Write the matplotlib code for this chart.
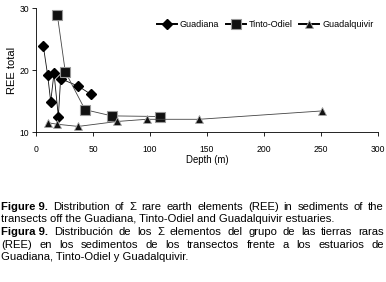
import matplotlib
matplotlib.use("Agg")
import matplotlib.pyplot as plt

plt.rcParams['font.family'] = ['Liberation Sans', 'DejaVu Sans']

# datos
guad_x = [6.4, 10.2, 12.9, 15.8, 19.6, 21.6, 37.0, 48.0]
guad_y = [23.9, 19.2, 14.9, 19.5, 12.5, 18.6, 17.4, 16.1]

tinto_x = [18.7, 25.7, 43.0, 66.4, 108.5]
tinto_y = [28.9, 19.7, 13.6, 12.6, 12.5]

gq_x = [10.2, 18.7, 37.0, 71.3, 97.0, 143.0, 251.0]
gq_y = [11.5, 11.25, 10.9, 11.7, 12.05, 12.05, 13.4]

xticks = [0, 50, 100, 150, 200, 250, 300]
yticks = [10, 20, 30]

fig = plt.figure(figsize=(3.86, 2.82), dpi=100)
fig.canvas.draw()
r = fig.canvas.get_renderer()


def width(txt, fs, bold=False):
    t = fig.text(0, 0, txt, fontsize=fs, fontweight="bold" if bold else "normal")
    w = t.get_window_extent(r).width
    t.remove()
    return w


def size_for(txt, px):
    return 10 * px / width(txt, 10)


fs_tick = size_for("300", 14.5)
fs_lab = size_for("Depth (m)", 43)
fs_ylab = size_for("REE total", 47)
fs_leg = size_for("Guadalquivir", 51)
fs_cap = size_for("transects off the Guadiana, Tinto-Odiel and Guadalquivir estuaries.", 334)

ax = fig.add_axes([36/386, 1 - 132/282, 342/386, 124/282])

ax.plot(guad_x, guad_y, color="#111111", lw=0.6, marker="D",
        ms=5, mfc="black", mec="black", label="Guadiana")
ax.plot(tinto_x, tinto_y, color="#444444", lw=0.6, marker="s",
        ms=7, mfc="#111111", mec="#999999", mew=0.8, label="Tinto-Odiel")
ax.plot(gq_x, gq_y, color="#444444", lw=0.6, marker="^",
        ms=5.5, mfc="#111111", mec="#aaaaaa", mew=0.6, label="Guadalquivir")

ax.set_xlim(0, 300)
ax.set_ylim(10, 30)
ax.set_xticks(xticks)
ax.set_yticks(yticks)
ax.tick_params(labelsize=fs_tick, length=3, width=0.6, direction="out", pad=6)
ax.tick_params(axis="y", pad=2)
for s in ["top", "right"]:
    ax.spines[s].set_visible(False)
for s in ["left", "bottom"]:
    ax.spines[s].set_linewidth(0.6)
ax.set_xlabel("Depth (m)", fontsize=fs_lab, labelpad=1)
ax.set_ylabel("REE total", fontsize=fs_ylab, labelpad=2)

leg = ax.legend(loc="upper right", ncol=3, frameon=False, fontsize=fs_leg,
                handlelength=2.2, columnspacing=0.8, handletextpad=0.3,
                bbox_to_anchor=(1.01, 0.97))
for h in leg.legend_handles:
    h.set_linewidth(1.4)
    h.set_color("black")

# pie de figura, justificado a mano
paras = [
    ("Figure 9.", ["Distribution of \u03a3 rare earth elements (REE) in sediments of the",
                   "transects off the Guadiana, Tinto-Odiel and Guadalquivir estuaries."]),
    ("Figura 9.", ["Distribuci\u00f3n de los \u03a3 elementos del grupo de las tierras raras",
                   "(REE) en los sedimentos de los transectos frente a los estuarios de",
                   "Guadiana, Tinto-Odiel y Guadalquivir."]),
]
ys = [[207, 219], [232, 245, 257]]
left, right = 1.0, 384.0

for (bold, plines), yy in zip(paras, ys):
    for i, (ln, y) in enumerate(zip(plines, yy)):
        if i == len(plines) - 1:
            # ultima linea del parrafo: sin justificar
            fig.text(left / 386, 1 - y / 282, ln, fontsize=fs_cap, va="center")
            continue
        words = [(w, False) for w in ln.split(" ")]
        if i == 0:
            words = [(bold, True)] + words
        ws = [width(w, fs_cap, b) for w, b in words]
        gap = (right - left - sum(ws)) / (len(words) - 1)
        x = left
        for (w, b), wd in zip(words, ws):
            fig.text(x / 386, 1 - y / 282, w, fontsize=fs_cap,
                     fontweight="bold" if b else "normal", va="center")
            x += wd + gap

fig.savefig("out.png", dpi=100)
